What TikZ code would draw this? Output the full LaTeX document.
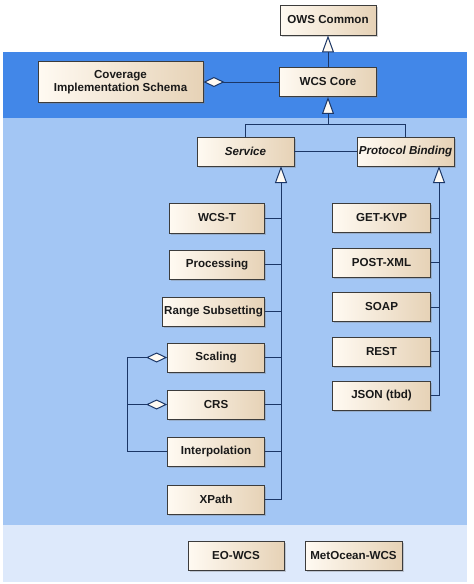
\documentclass[tikz,border=0pt]{standalone}
\usepackage{fontspec}
\setmainfont{Liberation Sans}
\usepackage{tikz}
\usetikzlibrary{arrows.meta,shadows}
\definecolor{bandA}{HTML}{4287E8}
\definecolor{bandB}{HTML}{A3C6F4}
\definecolor{bandC}{HTML}{DDE9FB}
\definecolor{boxL}{HTML}{FFFAF2}
\definecolor{boxR}{HTML}{E6D2B6}
\definecolor{wire}{HTML}{1B3666}
\definecolor{rim}{HTML}{3C3C3C}

\begin{document}
\begin{tikzpicture}[x=1pt,y=-1pt,
    cls/.style={draw=rim, line width=0.9pt, left color=boxL, right color=boxR,
      drop shadow={shadow xshift=1.6pt, shadow yshift=-1.6pt, opacity=0.35},
      minimum width=97pt, minimum height=29pt, inner sep=0.5pt,
      font=\fontsize{11.6}{13.5}\selectfont\bfseries, text=black!90, align=center},
    wire/.style={draw=wire, line width=1pt},
    inh/.style={wire, -{Triangle[length=17pt,width=12pt,fill=boxL]}},
    agg/.style={wire, {Diamond[length=21pt,width=10pt,fill=boxL]}-}]
        \useasboundingbox (0,0) rectangle (474,584);
        \fill[bandA] (3,52) rectangle (467,118);
        \fill[bandB] (3,118) rectangle (467,525);
        \fill[bandC] (3,525) rectangle (467,582);
        % top
        \node[cls, minimum width=96pt, minimum height=30pt] (A1) at (328,20) {OWS Common};
        \node[cls] (A2) at (328,82) {WCS Core};
        \node[cls, minimum width=165pt, minimum height=41pt] (A3) at (120.5,82) {Coverage\\Implementation Schema};
        \node[cls, font=\fontsize{11.6}{13.5}\selectfont\bfseries\itshape] (B1) at (245.5,151.5) {Service};
        \node[cls, font=\fontsize{11.6}{13.5}\selectfont\bfseries\itshape] (B2) at (405.5,151.5) {Protocol Binding};
        % service extensions
        \node[cls, minimum width=95pt, minimum height=30pt, anchor=east] (S1) at (265,218) {WCS-T};
        \node[cls, minimum width=95pt, anchor=east] (S2) at (265,264.5) {Processing};
        \node[cls, minimum width=102pt, anchor=east] (S3) at (265,311.5) {Range Subsetting};
        \node[cls, anchor=east] (S4) at (265,357.5) {Scaling};
        \node[cls, anchor=east] (S5) at (265,404.5) {CRS};
        \node[cls, anchor=east] (S6) at (265,451.5) {Interpolation};
        \node[cls, anchor=east] (S7) at (265,499.5) {XPath};
        % protocol bindings
        \node[cls, minimum width=98pt, anchor=east] (P1) at (431,218) {GET-KVP};
        \node[cls, minimum width=98pt, anchor=east] (P2) at (431,262.5) {POST-XML};
        \node[cls, minimum width=98pt, anchor=east] (P3) at (431,307) {SOAP};
        \node[cls, minimum width=98pt, anchor=east] (P4) at (431,351.5) {REST};
        \node[cls, minimum width=98pt, anchor=east] (P5) at (431,395.5) {JSON (tbd)};
        % application profiles
        \node[cls, minimum width=96pt] (C1) at (236,555.5) {EO-WCS};
        \node[cls] (C2) at (353.5,555.5) {MetOcean-WCS};
        \coordinate (J) at (328,124);
        \coordinate (sv) at (281,166);
        \coordinate (pv) at (439,166);
        \coordinate (L) at (127,404.5);
        \draw[inh] (A2) to (A1);
        \draw[agg] (A3) to (A2);
        \draw[inh] (J) to (A2);
        \draw[wire] (B1.north) |- (J);
        \draw[wire] (B2.north) |- (J);
        \draw[wire] (B1) to (B2);
        \draw[inh] (S7) -| (sv);
        \draw[wire] (S1) to (S1 -| sv);
        \draw[wire] (S2) to (S2 -| sv);
        \draw[wire] (S3) to (S3 -| sv);
        \draw[wire] (S4) to (S4 -| sv);
        \draw[wire] (S5) to (S5 -| sv);
        \draw[wire] (S6) to (S6 -| sv);
        \draw[inh] (P5) -| (pv);
        \draw[wire] (P1) to (P1 -| pv);
        \draw[wire] (P2) to (P2 -| pv);
        \draw[wire] (P3) to (P3 -| pv);
        \draw[wire] (P4) to (P4 -| pv);
        \draw[agg] (S4) -- (S4 -| L) |- (S6);
        \draw[agg] (S5) to (L);
      \end{tikzpicture}
\end{document}
